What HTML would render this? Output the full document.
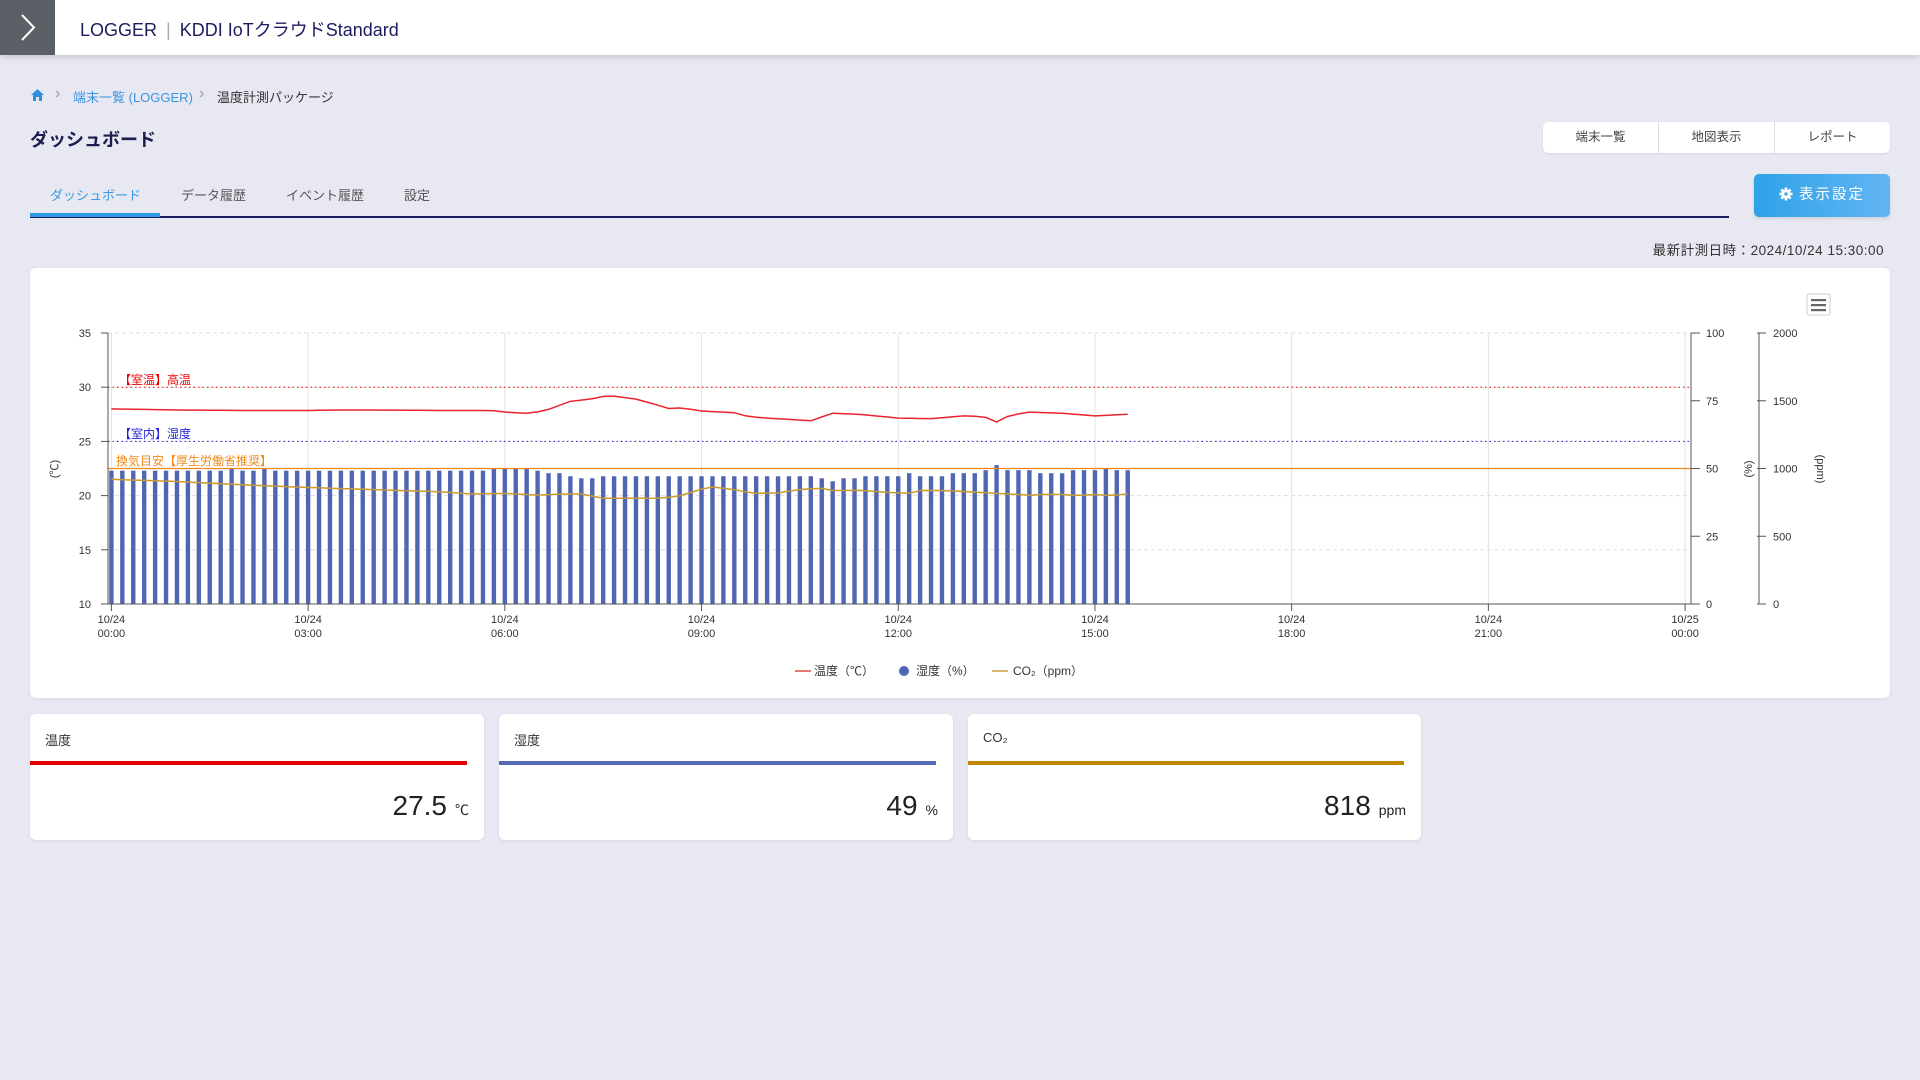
<!DOCTYPE html>
<html><head><meta charset="utf-8">
<style>
*{box-sizing:border-box;margin:0;padding:0}
body{width:1920px;height:1080px;background:#e8e8f2;font-family:"Liberation Sans","Noto Sans CJK JP",sans-serif;position:relative;overflow:hidden;color:#333}
.hdr{position:absolute;left:0;top:0;width:1920px;height:55px;background:#fff;box-shadow:0 2px 6px rgba(0,0,0,.15)}
.sq{position:absolute;left:0;top:0;width:55px;height:55px;background:#5b6066}
.ttl{position:absolute;left:80px;top:16px;font-size:18px;color:#1c1c5e;white-space:nowrap}
.abs{position:absolute;white-space:nowrap}
.btns{position:absolute;left:1543px;top:122px;width:347px;height:31px;background:#fff;border-radius:5px;display:flex;box-shadow:0 1px 2px rgba(0,0,0,.08)}
.btns div{flex:1;text-align:center;font-size:12.5px;line-height:31px;color:#444;border-left:1px solid #ddd}
.btns div:first-child{border-left:none}
.set{position:absolute;left:1754px;top:174px;width:136px;height:43px;border-radius:5px;background:linear-gradient(90deg,#2ea3e8,#62b4f2);color:#fff;font-size:14.5px;letter-spacing:2px;line-height:43px;text-align:center;box-shadow:0 2px 3px rgba(0,0,0,.1)}
.card{position:absolute;background:#fff;border-radius:6px;box-shadow:0 1px 3px rgba(0,0,0,.08)}
.ct{position:absolute;left:15px;top:16px;font-size:13px;color:#333}
.cl{position:absolute;left:0;top:47px;height:4px}
.cv{position:absolute;right:15px;top:76px;font-size:28px;color:#222;white-space:nowrap;font-weight:500}
.cv span{font-size:14px;margin-left:8px;font-weight:normal}
</style></head><body>
<div class="hdr"><div class="sq"><svg width="55" height="55"><polyline points="22,15 34,27.5 22,40" fill="none" stroke="#fff" stroke-width="2"/></svg></div>
<div class="ttl">LOGGER <span style="color:#aaa;margin:0 4px">|</span> KDDI IoTクラウドStandard</div></div>

<svg class="abs" style="left:30px;top:88px" width="15" height="14"><path d="M7.5 1 L14 7 L12 7 L12 13 L9 13 L9 9 L6 9 L6 13 L3 13 L3 7 L1 7 Z" fill="#2e8fe0"/></svg>
<div class="abs" style="left:55px;top:85px;font-size:16px;color:#999">›</div>
<div class="abs" style="left:73px;top:87px;font-size:13px;color:#3b94dc">端末一覧 (LOGGER)</div>
<div class="abs" style="left:199px;top:85px;font-size:16px;color:#999">›</div>
<div class="abs" style="left:217px;top:87px;font-size:13px;color:#333">温度計測パッケージ</div>
<div class="abs" style="left:30px;top:126px;font-size:18px;font-weight:bold;color:#1c1c4e">ダッシュボード</div>

<div class="btns"><div>端末一覧</div><div>地図表示</div><div>レポート</div></div>

<div class="abs" style="left:50px;top:185px;font-size:13px;color:#3a9be0">ダッシュボード</div>
<div class="abs" style="left:181px;top:185px;font-size:13px;color:#555">データ履歴</div>
<div class="abs" style="left:286px;top:185px;font-size:13px;color:#555">イベント履歴</div>
<div class="abs" style="left:404px;top:185px;font-size:13px;color:#555">設定</div>
<div class="abs" style="left:30px;top:216px;width:1699px;height:2px;background:#1c1c5e"></div>
<div class="abs" style="left:30px;top:213px;width:130px;height:4px;background:#2e9ae6"></div>
<div class="set"><svg width="14" height="14" style="vertical-align:-2px;margin-right:6px" viewBox="0 0 14 14"><circle cx="7" cy="7" r="4.5" fill="#fff"/><g stroke="#fff" stroke-width="2.6"><line x1="7" y1="0.5" x2="7" y2="13.5"/><line x1="0.5" y1="7" x2="13.5" y2="7"/><line x1="2.4" y1="2.4" x2="11.6" y2="11.6"/><line x1="11.6" y1="2.4" x2="2.4" y2="11.6"/></g><circle cx="7" cy="7" r="1.8" fill="#45a9ec"/></svg>表示設定</div>
<div class="abs" style="right:36px;top:239px;font-size:13.5px;color:#333;letter-spacing:.5px">最新計測日時：2024/10/24 15:30:00</div>

<div class="card" style="left:30px;top:268px;width:1860px;height:430px"></div>
<svg id="ch" class="abs" style="left:0;top:0" width="1920" height="720" font-family="Liberation Sans, Noto Sans CJK JP, sans-serif"></svg>

<div class="card" style="left:30px;top:714px;width:454px;height:126px"><div class="ct">温度</div><div class="cl" style="width:437px;background:#e00000"></div><div class="cv">27.5<span>℃</span></div></div>
<div class="card" style="left:499px;top:714px;width:454px;height:126px"><div class="ct">湿度</div><div class="cl" style="width:437px;background:#5568b5"></div><div class="cv">49<span>%</span></div></div>
<div class="card" style="left:968px;top:714px;width:453px;height:126px"><div class="ct">CO₂</div><div class="cl" style="width:436px;background:#bf8600"></div><div class="cv">818<span>ppm</span></div></div>

<script>
var s='';
function X(h){return 111.4+h*65.57}
function Y(t){return 604-(t-10)*10.84}
function H(p){return 604-p*2.71}
for(var t=15;t<=35;t+=5)s+='<line x1="108" x2="1691" y1="'+Y(t)+'" y2="'+Y(t)+'" stroke="#ddd" stroke-dasharray="4,3"/>';
var lbl=['10/24','10/24','10/24','10/24','10/24','10/24','10/24','10/24','10/25'];
for(var i=0;i<=8;i++){var x=X(i*3);s+='<line x1="'+x+'" x2="'+x+'" y1="333" y2="604" stroke="#e2e2e2"/><line x1="'+x+'" x2="'+x+'" y1="604" y2="611" stroke="#555"/>';
s+='<text x="'+x+'" y="623" font-size="11" text-anchor="middle" fill="#333">'+lbl[i]+'</text><text x="'+x+'" y="637" font-size="11" text-anchor="middle" fill="#333">'+(i==8?'00:00':(('0'+i*3).slice(-2)+':00'))+'</text>';}
var hum=[];for(var i=0;i<40;i++)hum.push(49.2);[11,14,35,36,37,38].forEach(function(k){hum[k]=50.1});
var ys=[312,312,321,327,327,321,321,321,321,321,321,321,321,321,321,321,321,321,321,321,321,321,321,321,321,327,336,327,327,321,321,321,321,312,321,321,321,312,312,312,303,288,303,303,303,312,312,312,303,303,303,298,303,303];
ys.forEach(function(y){hum.push(50-(y-298)/8.05)});
for(var i=0;i<94;i++){var x=X(i/6);var y=H(hum[i]);s+='<rect x="'+(x-2.2)+'" y="'+y+'" width="4.4" height="'+(604-y)+'" fill="#5066b4"/>';}
s+='<line x1="108" x2="1691" y1="'+Y(30)+'" y2="'+Y(30)+'" stroke="#e00" stroke-dasharray="1.5,3"/>';
s+='<line x1="108" x2="1691" y1="'+Y(25)+'" y2="'+Y(25)+'" stroke="#22c" stroke-dasharray="1.5,3"/>';
s+='<line x1="108" x2="1691" y1="'+H(50)+'" y2="'+H(50)+'" stroke="#f08a1a" stroke-width="1.3"/>';
s+='<text x="119" y="384" font-size="12" fill="#e00">【室温】高温</text>';
s+='<text x="119" y="438" font-size="12" fill="#2222dd">【室内】湿度</text>';
s+='<text x="116" y="465" font-size="12" fill="#f08a1a">換気目安【厚生労働省推奨】</text>';
function interp(k,h){for(var i=0;i<k.length-1;i++){if(h<=k[i+1][0]){var a=k[i],b=k[i+1];return a[1]+(b[1]-a[1])*(h-a[0])/(b[0]-a[0]);}}return k[k.length-1][1];}
var tk=[[0,28.0],[0.5,27.95],[1,27.9],[2,27.85],[3,27.85],[3.5,27.9],[4,27.9],[5,27.85],[5.8,27.85],[6.1,27.65],[6.35,27.6],[6.6,27.8],[6.82,28.3],[7.0,28.7],[7.3,28.9],[7.58,29.25],[8.0,28.9],[8.3,28.4],[8.52,28.0],[8.7,28.1],[9.0,27.8],[9.5,27.65],[9.7,27.3],[10.0,27.15],[10.67,26.9],[11.0,27.6],[11.4,27.5],[12.0,27.15],[12.5,27.1],[13.0,27.35],[13.3,27.3],[13.5,26.8],[13.7,27.4],[14.0,27.7],[14.5,27.6],[15.0,27.35],[15.5,27.5]];
var ck=[[0,21.5],[1,21.3],[2,21.0],[3,20.75],[4,20.55],[5,20.35],[5.5,20.15],[6,20.2],[6.5,20.05],[6.88,20.15],[7.17,20.15],[7.5,19.75],[8.28,19.75],[8.63,19.9],[9.0,20.6],[9.16,20.8],[9.45,20.6],[9.8,20.2],[10.2,20.25],[10.4,20.5],[10.8,20.7],[11.03,20.45],[11.4,20.5],[11.8,20.3],[12.2,20.2],[12.35,20.5],[12.8,20.45],[13.5,20.2],[14.0,20.05],[14.4,20.15],[14.7,20.0],[15.0,20.1],[15.2,20.0],[15.5,20.15]];
var p1='',p2='';for(var i=0;i<94;i++){var h=i/6;p1+=X(h).toFixed(1)+','+Y(interp(tk,h)).toFixed(1)+' ';p2+=X(h).toFixed(1)+','+Y(interp(ck,h)).toFixed(1)+' ';}
s+='<polyline points="'+p2+'" fill="none" stroke="#c99a2e" stroke-width="1.5"/>';
s+='<polyline points="'+p1+'" fill="none" stroke="#e8242c" stroke-width="1.5"/>';
s+='<line x1="108" x2="108" y1="333" y2="604" stroke="#555"/><line x1="108" x2="1691" y1="604" y2="604" stroke="#555"/>';
s+='<line x1="1691" x2="1691" y1="333" y2="604" stroke="#555"/><line x1="1759" x2="1759" y1="333" y2="604" stroke="#555"/>';
for(var t=10;t<=35;t+=5){var y=Y(t);s+='<line x1="101" x2="108" y1="'+y+'" y2="'+y+'" stroke="#555"/><text x="91" y="'+(y+4)+'" font-size="11" text-anchor="end" fill="#333">'+t+'</text>';}
for(var i=0;i<=4;i++){var y=H(i*25);s+='<line x1="1691" x2="1700" y1="'+y+'" y2="'+y+'" stroke="#555"/><text x="1706" y="'+(y+4)+'" font-size="11" fill="#333">'+(i*25)+'</text>';
s+='<line x1="1757" x2="1766" y1="'+y+'" y2="'+y+'" stroke="#555"/><text x="1773" y="'+(y+4)+'" font-size="11" fill="#333">'+(i*500)+'</text>';}
s+='<text transform="translate(58,469) rotate(-90)" font-size="11" text-anchor="middle" fill="#333">(℃)</text>';
s+='<text transform="translate(1752,469) rotate(-90)" font-size="11" text-anchor="middle" fill="#333">(%)</text>';
s+='<text transform="translate(1817,469) rotate(90)" font-size="11" text-anchor="middle" fill="#333">(ppm)</text>';
s+='<rect x="1807" y="294" width="23" height="21" rx="2" fill="#fff" stroke="#ccc"/>';
for(var i=0;i<3;i++)s+='<rect x="1811" y="'+(299+i*5)+'" width="15" height="2.2" fill="#666"/>';
s+='<line x1="795" x2="811" y1="671" y2="671" stroke="#e87878" stroke-width="2"/><text x="814" y="675" font-size="12" fill="#333">温度（℃）</text>';
s+='<circle cx="904" cy="671" r="5" fill="#5066b4"/><text x="916" y="675" font-size="12" fill="#333">湿度（%）</text>';
s+='<line x1="992" x2="1008" y1="671" y2="671" stroke="#d8b870" stroke-width="2"/><text x="1013" y="675" font-size="12" fill="#333">CO₂（ppm）</text>';
document.getElementById('ch').innerHTML=s;
</script>
</body></html>
